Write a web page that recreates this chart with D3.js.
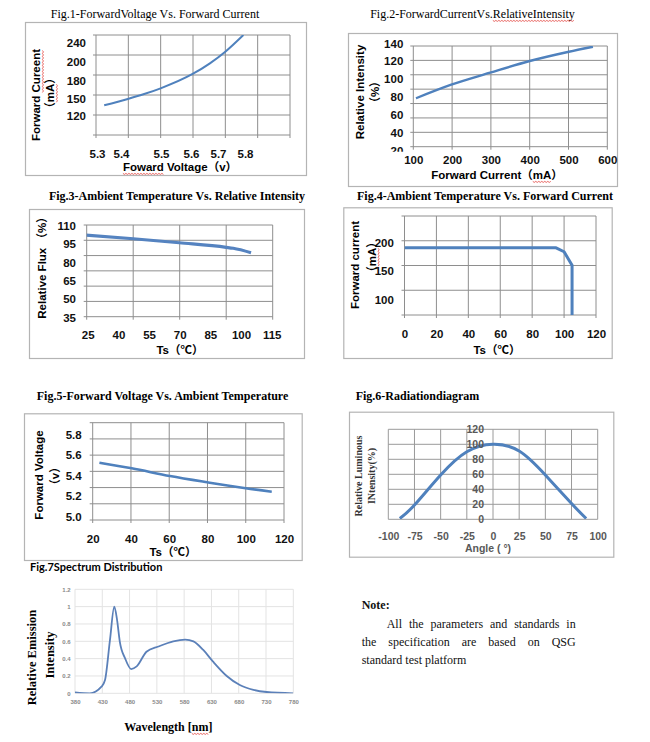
<!DOCTYPE html>
<html>
<head>
<meta charset="utf-8">
<script src="https://cdn.jsdelivr.net/npm/d3@7"></script>
<style>
  body { margin: 0; background: #fff; }
  svg { display: block; }
</style>
</head>
<body>
<div id="sheet"></div>
<script>
// Fig.1 forward voltage (V) vs forward current (mA)
var fig1Voltage = [5.330, 5.417, 5.456, 5.499, 5.606, 5.670, 5.727, 5.794];
var fig1Current = [138.9, 150, 157.8, 167.8, 187.4, 198.6, 221.7, 256.8];
var fig1XTicks = [5.3, 5.4, 5.5, 5.6, 5.7, 5.8];
var fig1YTicks = [120, 150, 180, 200, 240];

// Fig.2 forward current (mA) vs relative intensity (%)
var fig2Current = [107, 196, 298, 400, 501, 563];
var fig2Intensity = [78.5, 93.4, 107.1, 120.2, 130.6, 136.2];
var fig2XTicks = [100, 200, 300, 400, 500, 600];
var fig2YTicks = [20, 40, 60, 80, 100, 120, 140];

// Fig.3 ambient temperature vs relative flux (%)
var fig3Temp = [24.2, 47.3, 69.8, 92.7, 96.2, 104.9];
var fig3Flux = [102.4, 99.4, 96.1, 92.4, 91.6, 88];
var fig3XTicks = [25, 40, 55, 70, 85, 100, 115];
var fig3YTicks = [35, 50, 65, 80, 95, 110];

// Fig.4 ambient temperature vs forward current (mA)
var fig4Temp = [0, 95, 100, 105, 105];
var fig4Current = [191, 191, 184, 160, 72.3];
var fig4XTicks = [0, 20, 40, 60, 80, 100, 120];
var fig4YTicks = [100, 150, 200];

// Fig.5 ambient temperature vs forward voltage (V)
var fig5Temp = [23.5, 40.4, 60.4, 79.9, 100, 113.6];
var fig5Voltage = [5.524, 5.470, 5.395, 5.334, 5.276, 5.243];
var fig5XTicks = [20, 40, 60, 80, 100, 120];
var fig5YTicks = [5.0, 5.2, 5.4, 5.6, 5.8];

// Fig.6 radiation diagram
var fig6Angle = [-89, -75, -50, -25, 0, 25, 50, 75, 89];
var fig6Intensity = [1, 19, 59, 90, 100, 91, 59, 21, 1];
var fig6XTicks = [-100, -75, -50, -25, 0, 25, 50, 75, 100];
var fig6YTicks = [0, 20, 40, 60, 80, 100, 120];

// Fig.7 spectrum distribution
var fig7Wave = [380, 407, 428.5, 435, 444, 452, 457, 462, 472, 483, 493, 511, 533, 560, 582, 597, 615, 633, 658, 682, 707, 731, 780];
var fig7Value = [0.01, 0, 0.076, 0.153, 0.61, 1.0, 0.85, 0.6, 0.4, 0.28, 0.31, 0.48, 0.54, 0.6, 0.62, 0.6, 0.5, 0.365, 0.2, 0.096, 0.04, 0.015, 0];
var fig7XTicks = [380, 430, 480, 530, 580, 630, 680, 730, 780];
var fig7YTicks = [0, 0.2, 0.4, 0.6, 0.8, 1, 1.2];

var SERIF = "'Liberation Serif', 'Times New Roman', serif";
var SANS = "'Liberation Sans', Arial, 'Noto Sans CJK SC', sans-serif";
var LINE = "#4f81bd";
var plain = function(d){ return String(d); };

var svg = d3.select("#sheet").append("svg")
    .attr("width", 650)
    .attr("height", 742);

//////////////////////////////////////////////////////////////////////////////

// red spell-check wave under a word, as in the scanned sheet
function squiggle(textSel, word) {
  if (!word) return;
  var node = textSel.node();
  var i = node.textContent.indexOf(word);
  if (i < 0) return;
  var a = node.getStartPositionOfChar(i);
  var b = node.getEndPositionOfChar(i + word.length - 1);
  var yb = a.y + 2.5;
  var pts = d3.range(a.x, b.x, 1.5).map(function(px, k){ return [px, yb + (k % 2 ? 0.9 : -0.1)]; });
  d3.select(node.parentNode).append("path")
      .attr("transform", textSel.attr("transform"))
      .attr("d", d3.line()(pts))
      .attr("fill", "none")
      .attr("stroke", "#e2413c")
      .attr("stroke-width", 0.8);
}

function drawPanel(p) {
  var g = svg.append("g").attr("class", "panel" + p.id);

  if (p.frame) {
    g.append("rect")
        .attr("x", p.frame[0] + 0.5).attr("y", p.frame[1] + 0.5)
        .attr("width", p.frame[2] - p.frame[0]).attr("height", p.frame[3] - p.frame[1])
        .attr("fill", "#fff").attr("stroke", "#b4b4b4").attr("stroke-width", 1.2);
  }

  // the source sheets label their axes unevenly, so the scales may be piecewise
  var x = d3.scaleLinear().domain(p.xDomain).range(p.xRange || [p.left, p.right]);
  var y = d3.scaleLinear().domain(p.yDomain).range(p.yRange || [p.bottom, p.top]);

  // excel style grid, evenly divided plot area
  var gx = d3.scaleLinear().domain([0, p.gridX]).range([p.left, p.right]);
  var gy = d3.scaleLinear().domain([0, p.gridY]).range([p.bottom, p.top]);

  g.selectAll(".vgrid").data(d3.range(p.gridX + 1)).enter().append("line")
      .attr("x1", gx).attr("x2", gx)
      .attr("y1", p.top).attr("y2", p.bottom + (p.ticks ? 3 : 0))
      .attr("stroke", p.gridColor).attr("stroke-width", 1);

  g.selectAll(".hgrid").data(d3.range(p.gridY + 1)).enter().append("line")
      .attr("y1", gy).attr("y2", gy)
      .attr("x1", p.left - (p.ticks ? 3 : 0)).attr("x2", p.right)
      .attr("stroke", p.gridColor).attr("stroke-width", 1);

  // curve
  var line = d3.line()
      .x(function(d){ return x(d[0]); })
      .y(function(d){ return y(d[1]); })
      .curve(p.curve || d3.curveMonotoneX);

  var clipId = "clip" + p.id;
  g.append("clipPath").attr("id", clipId).append("rect")
      .attr("x", p.left).attr("y", p.top)
      .attr("width", p.right - p.left).attr("height", p.bottom - p.top);

  g.append("path")
      .datum(d3.zip(p.xs, p.ys))
      .attr("clip-path", "url(#" + clipId + ")")
      .attr("d", line)
      .attr("fill", "none")
      .attr("stroke", p.lineColor || LINE)
      .attr("stroke-width", p.lw)
      .attr("stroke-linejoin", "round");

  // tick labels
  var yAxisX = p.yAxisAt !== undefined ? x(p.yAxisAt) : p.left;
  var yAx = g.append("g")
      .attr("transform", "translate(" + yAxisX + ",0)")
      .call(d3.axisLeft(y).tickValues(p.yTicks).tickSize(0).tickPadding(p.yPad).tickFormat(p.yFormat || plain));
  if (p.yClip) {
    g.append("clipPath").attr("id", clipId + "y").append("rect")
        .attr("x", -650).attr("y", 0).attr("width", 1300).attr("height", p.yClip);
    yAx.attr("clip-path", "url(#" + clipId + "y)");
  }

  var xAx = g.append("g")
      .attr("transform", "translate(0," + p.bottom + ")")
      .call(d3.axisBottom(x).tickValues(p.xTicks).tickSize(0).tickPadding(p.xPad).tickFormat(p.xFormat || plain));

  [yAx, xAx].forEach(function(ax){
    ax.select(".domain").remove();
    ax.selectAll("text")
        .attr("font-family", SANS)
        .attr("font-weight", "bold")
        .attr("font-size", p.tickSize)
        .attr("fill", p.tickColor);
  });

  // axis titles
  (p.yTitles || []).forEach(function(t){
    var txt = g.append("text")
        .attr("transform", "translate(" + t.x + "," + t.y + ") rotate(-90)")
        .attr("text-anchor", "middle")
        .attr("dy", "0.35em")
        .attr("font-family", t.font || SANS)
        .attr("font-weight", "bold")
        .attr("font-size", t.size || 11.5)
        .attr("fill", t.color || "#000")
        .text(t.text);
    squiggle(txt, t.squiggle);
  });

  if (p.xTitle) {
    var xt = g.append("text")
        .attr("x", p.xTitle.x).attr("y", p.xTitle.y)
        .attr("text-anchor", "middle")
        .attr("font-family", p.xTitle.font || SANS)
        .attr("font-weight", "bold")
        .attr("font-size", p.xTitle.size || 11.5)
        .attr("fill", p.xTitle.color || "#000")
        .text(p.xTitle.text);
    squiggle(xt, p.xTitle.squiggle);
  }

  if (p.title) {
    var tt = g.append("text")
        .attr("x", p.title.x).attr("y", p.title.y)
        .attr("text-anchor", p.title.anchor || "middle")
        .attr("font-family", p.title.font || SERIF)
        .attr("font-weight", p.title.weight || "normal")
        .attr("font-size", p.title.size || 12)
        .attr("fill", "#000")
        .text(p.title.text);
    squiggle(tt, p.title.squiggle);
  }
}

//////////////////////////////////////////////////////////////////////////////

var panels = [
  {
    id: 1, frame: [25, 22, 306, 175],
    left: 96, right: 290, top: 35, bottom: 135,
    xDomain: [5.296, 5.3, 5.4, 5.5, 5.6, 5.7, 5.8, 5.967], xRange: [96, 97, 121, 161, 191, 218, 245, 290],
    yDomain: [86.5, 120, 150, 180, 200, 240, 256.8], yRange: [135, 116, 99, 81, 62, 43, 35],
    gridX: 6, gridY: 5, gridColor: "#8e8e8e", ticks: true,
    xs: fig1Voltage, ys: fig1Current, lw: 2,
    xTicks: fig1XTicks, yTicks: fig1YTicks, xFormat: d3.format(".1f"),
    xPad: 15, yPad: 10, tickSize: 11.5, tickColor: "#111",
    yTitles: [{ text: "Forward Cureent", x: 36, y: 95, squiggle: "Cureent" }, { text: "（mA）", x: 50, y: 93, squiggle: "mA" }],
    xTitle: { text: "Foward Voltage（v）", x: 180, y: 171, squiggle: "Foward" },
    title: { text: "Fig.1-ForwardVoltage Vs. Forward Current", x: 155, y: 18 }
  },
  {
    id: 2, frame: [348, 33, 617, 186],
    left: 413.3, right: 607.3, top: 46, bottom: 146.7,
    xDomain: [100, 600], yDomain: [24.3, 137],
    gridX: 5, gridY: 7, gridColor: "#8e8e8e", ticks: true,
    xs: fig2Current, ys: fig2Intensity, lw: 2.4,
    xTicks: fig2XTicks, yTicks: fig2YTicks, yClip: 151.7,
    xPad: 9.5, yPad: 10, tickSize: 11.5, tickColor: "#111",
    yTitles: [{ text: "Relative Intensity", x: 360, y: 92 }, { text: "（%）", x: 374.5, y: 92 }],
    xTitle: { text: "Forward Current（mA）", x: 497, y: 179, squiggle: "mA" },
    title: { text: "Fig.2-ForwardCurrentVs.RelativeIntensity", x: 472.5, y: 18, squiggle: "RelativeIntensity" }
  },
  {
    id: 3, frame: [29, 209, 304, 358],
    left: 86.7, right: 272.7, top: 225, bottom: 316.7,
    xDomain: [24.5, 115.5], yDomain: [35.8, 110.6],
    gridX: 4, gridY: 6, gridColor: "#8e8e8e", ticks: true,
    xs: fig3Temp, ys: fig3Flux, lw: 3.2, lineColor: "#5583c0",
    xTicks: fig3XTicks, yTicks: fig3YTicks,
    xPad: 14.3, yPad: 10.7, tickSize: 11.5, tickColor: "#111",
    yTitles: [{ text: "Relative Flux （%）", x: 41.7, y: 265 }],
    xTitle: { text: "Ts（℃）", x: 180, y: 354 },
    title: { text: "Fig.3-Ambient Temperature Vs. Relative Intensity", x: 177, y: 200, weight: "bold", size: 12 }
  },
  {
    id: 4, frame: [343.3, 207.3, 611.7, 358],
    left: 404.5, right: 596, top: 216, bottom: 315,
    xDomain: [0, 120], yDomain: [72.3, 247.2],
    gridX: 6, gridY: 4, gridColor: "#8e8e8e", ticks: true,
    xs: fig4Temp, ys: fig4Current, lw: 3, curve: d3.curveLinear,
    xTicks: fig4XTicks, yTicks: fig4YTicks,
    xPad: 15, yPad: 10.7, tickSize: 11.5, tickColor: "#111",
    yTitles: [{ text: "Forward current", x: 355, y: 265 }, { text: "（mA）", x: 371.7, y: 257, squiggle: "mA" }],
    xTitle: { text: "Ts（℃）", x: 497, y: 354 },
    title: { text: "Fig.4-Ambient Temperature Vs. Forward Current", x: 485, y: 200, weight: "bold", size: 12 }
  },
  {
    id: 5, frame: [24, 413.3, 301.7, 560],
    left: 92.7, right: 284, top: 422.7, bottom: 520,
    xDomain: [20, 120], yDomain: [4.968, 5.913],
    gridX: 5, gridY: 6, gridColor: "#8e8e8e", ticks: true,
    xs: fig5Temp, ys: fig5Voltage, lw: 2.6,
    xTicks: fig5XTicks, yTicks: fig5YTicks, yFormat: d3.format(".1f"),
    xPad: 15.3, yPad: 11, tickSize: 11.5, tickColor: "#111",
    yTitles: [{ text: "Forward Voltage", x: 39.3, y: 475 }, { text: "（v）", x: 55, y: 476 }],
    xTitle: { text: "Ts（℃）", x: 173, y: 555.5 },
    title: { text: "Fig.5-Forward Voltage Vs. Ambient Temperature", x: 162.5, y: 400, weight: "bold", size: 12 }
  },
  {
    id: 6, frame: [349, 411.7, 613.3, 556.7],
    left: 388.3, right: 597.7, top: 429.3, bottom: 519.3,
    xDomain: [-100, 100], yDomain: [0, 120], yAxisAt: 0,
    gridX: 8, gridY: 6, gridColor: "#9a9a9a", ticks: false,
    xs: fig6Angle, ys: fig6Intensity, lw: 3, curve: d3.curveNatural,
    xTicks: fig6XTicks, yTicks: fig6YTicks,
    xPad: 13.7, yPad: 9, tickSize: 10.5, tickColor: "#595959",
    yTitles: [
      { text: "Relative Luminous", x: 358.3, y: 476, font: SERIF, size: 10, color: "#333" },
      { text: "INtensity(%)", x: 371.7, y: 476, font: SERIF, size: 10, color: "#333" }
    ],
    xTitle: { text: "Angle ( °)", x: 488, y: 551.5, size: 10.5, color: "#595959" },
    title: { text: "Fig.6-Radiationdiagram", x: 355.7, y: 400, anchor: "start", weight: "bold", size: 12 }
  },
  {
    id: 7, frame: null,
    left: 75, right: 293.3, top: 589.3, bottom: 693.3,
    xDomain: [380, 780], yDomain: [0, 1.2],
    gridX: 8, gridY: 6, gridColor: "#e3e3e3", ticks: false,
    xs: fig7Wave, ys: fig7Value, lw: 1.8, lineColor: "#5b80b9",
    xTicks: fig7XTicks, yTicks: fig7YTicks,
    xPad: 6.3, yPad: 4.3, tickSize: 6, tickColor: "#8a8a8a",
    yTitles: [
      { text: "Relative Emission", x: 31.7, y: 657.5, font: SERIF, size: 12.5 },
      { text: "Intensity", x: 50, y: 655, font: SERIF, size: 12.5 }
    ],
    xTitle: { text: "Wavelength [nm]", x: 168.3, y: 731, font: SERIF, size: 12, squiggle: "nm" },
    title: { text: "Fig.7Spectrum Distribution", x: 30, y: 571, anchor: "start", weight: "bold", size: 11, font: "Lato, 'Open Sans', sans-serif" }
  }
];

panels.forEach(drawPanel);

// note block, justified like the source document
var note = svg.append("g").attr("font-family", SERIF).attr("font-size", 12).attr("fill", "#111");

function justify(sel, width) {
  var natural = sel.node().getComputedTextLength();
  var gaps = sel.text().split(" ").length - 1;
  sel.attr("word-spacing", (width - natural) / gaps);
}

note.append("text").attr("x", 361.7).attr("y", 608.5).attr("font-weight", "bold").text("Note:");
justify(note.append("text").attr("x", 386.7).attr("y", 627.5)
    .text("All the parameters and standards in"), 189);
justify(note.append("text").attr("x", 361.7).attr("y", 646)
    .text("the specification are based on QSG"), 214);
note.append("text").attr("x", 361.7).attr("y", 664).text("standard test platform");
</script>
</body>
</html>
